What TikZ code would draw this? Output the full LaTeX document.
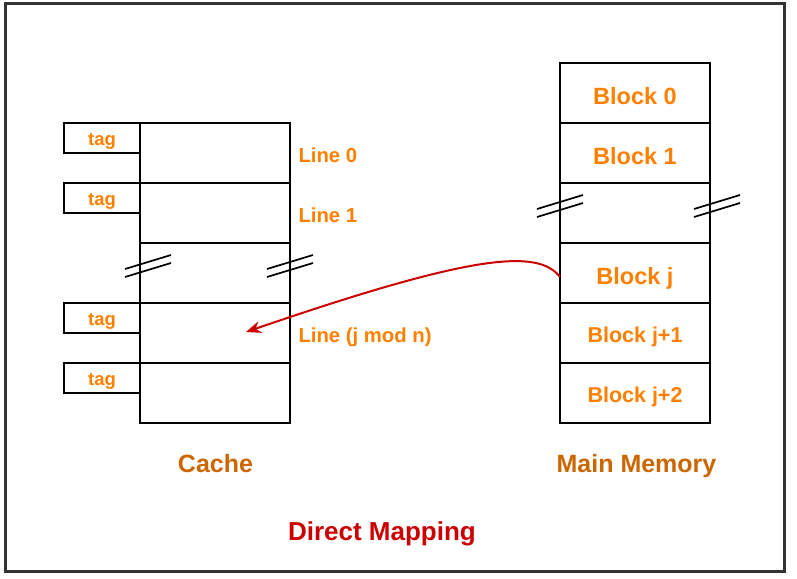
\documentclass[tikz,border=0pt]{standalone}
\usepackage{fontspec}
\setmainfont{Liberation Sans}
\usepackage{xcolor}
\usetikzlibrary{arrows.meta, positioning}

\definecolor{txtorange}{HTML}{FF8000}
\definecolor{capbrown}{HTML}{CC6600}
\definecolor{mapred}{HTML}{CC0000}

\tikzset{
    cell/.style={draw, line width=2pt, outer sep=0pt, inner sep=0pt,
        minimum width=150pt, minimum height=60pt,
        text height=22pt, text depth=0pt,
        text=txtorange, font=\bfseries\fontsize{23.5}{26}\selectfont},
    smallcell/.style={cell, text height=19.5pt,
        font=\bfseries\fontsize{21.5}{24}\selectfont},
    tagbox/.style={draw, line width=2pt, outer sep=0pt, inner sep=0pt,
        minimum width=76pt, minimum height=30pt,
        text height=14pt, text depth=0pt,
        text=txtorange, font=\bfseries\fontsize{18.5}{20}\selectfont},
    linelabel/.style={text=txtorange, text height=18pt, text depth=0pt,
        font=\bfseries\fontsize{20.3}{22}\selectfont},
    caption/.style={text=capbrown, anchor=base,
        font=\bfseries\fontsize{25}{28}\selectfont}
}

\begin{document}
\begin{tikzpicture}[x=1pt, y=-1pt]
    \useasboundingbox (0,0) rectangle (797,578);
    \draw[line width=3pt, black!80] (5,4) rectangle (784,571);

    % Cache lines with their tags
    \node[cell] (c0) at (215,153) {};
    \node[cell, below=0pt of c0] (c1) {};
    \node[cell, below=0pt of c1] (c2) {};
    \node[cell, below=0pt of c2] (c3) {};
    \node[cell, below=0pt of c3] (c4) {};
    \foreach \i in {0,1,3,4}
        \node[tagbox, anchor=north east] (t\i) at (c\i.north west) {tag};
    \node[linelabel, right=5pt of c0] (l0) {Line 0};
    \node[linelabel, right=5pt of c1] (l1) {Line 1};
    \node[linelabel, right=5pt of c3] (l3) {Line (j mod n)};

    % Main memory blocks
    \node[cell] (m0) at (635,93) {Block 0};
    \node[cell, below=0pt of m0] (m1) {Block 1};
    \node[cell, below=0pt of m1] (m2) {};
    \node[cell, below=0pt of m2] (m3) {Block j};
    \node[smallcell, below=0pt of m3] (m4) {Block j+1};
    \node[smallcell, below=0pt of m4] (m5) {Block j+2};

    % break marks
    \foreach \mx/\my in {148/266, 290/266, 560/206, 717/206} {
        \begin{scope}[shift={(\mx,\my)}, line width=1.7pt]
            \draw (-23,3) -- (23,-11);
            \draw (-23,11) -- (23,-3);
        \end{scope}
    }

    % mapping arrow
    \coordinate (target) at (246,332);
    \draw[line width=2pt, mapred, -{Stealth[length=15pt, width=12pt]}]
        ([yshift=-4pt]m3.west) .. controls (538,248) and (470,255) .. (target);

    \node[caption] (cachecap) at (215.5,472) {Cache};
    \node[caption] (memcap) at (636.5,472) {Main Memory};
    \node[caption, text=mapred, font=\bfseries\fontsize{26}{29}\selectfont]
        (title) at (382,540) {Direct Mapping};
\end{tikzpicture}
\end{document}
